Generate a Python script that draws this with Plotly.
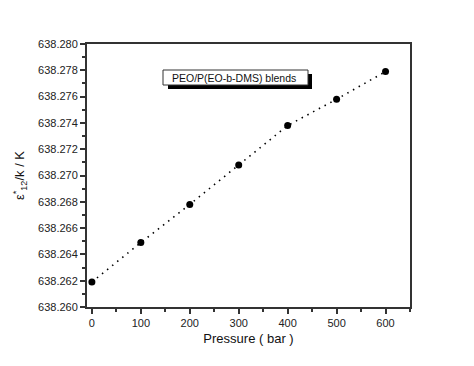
import plotly.graph_objects as go

pressure = [0, 100, 200, 300, 400, 500, 600]
eps = [638.2619, 638.2649, 638.2678, 638.2708, 638.2738, 638.2758, 638.2779]
legend_text = "PEO/P(EO-b-DMS) blends"

# plot area in pixels (reference)
L, T, W, H = 79, 36, 323, 263

fig = go.Figure()
fig.add_trace(go.Scatter(x=pressure, y=eps, mode="lines",
                         line=dict(color="black", width=1.6, dash="1.5px,5px"),
                         showlegend=False, hoverinfo="skip"))
fig.add_trace(go.Scatter(x=pressure, y=eps, mode="markers",
                         marker=dict(color="black", size=7),
                         showlegend=False))

axis_common = dict(showgrid=False, zeroline=False, showline=True, linecolor="#333",
                   linewidth=2, mirror=True, ticks="outside", ticklen=5, tickwidth=1.5,
                   tickcolor="#333", automargin=False,
                   tickfont=dict(family="Liberation Sans", size=11, color="#222"))

fig.update_xaxes(range=[-10, 650], tick0=0, dtick=100,
                 minor=dict(ticks="outside", ticklen=3, dtick=50, tickcolor="#333", tickwidth=1.5),
                 title=dict(text="Pressure ( bar )", font=dict(family="Liberation Sans", size=13, color="#111"),
                            standoff=6),
                 **axis_common)
fig.update_yaxes(range=[638.260, 638.280], tick0=638.260, dtick=0.002, tickformat=".3f",
                 minor=dict(ticks="outside", ticklen=3, dtick=0.001, tickcolor="#333", tickwidth=1.5),
                 title=dict(text="ε<sup>*</sup><sub>12</sub>/k / K",
                            font=dict(family="Liberation Sans", size=13, color="#111"), standoff=10),
                 **axis_common)

def px(x):
    return (x - 85) / W

def py(y):
    return (305 - y) / H

# legend-like box with shadow
fig.add_shape(type="rect", xref="paper", yref="paper",
              x0=px(166), x1=px(310), y0=py(87), y1=py(72),
              fillcolor="black", line=dict(width=0), layer="above")
fig.add_shape(type="rect", xref="paper", yref="paper",
              x0=px(161), x1=px(306), y0=py(83), y1=py(68),
              fillcolor="white", line=dict(width=1, color="#333"), layer="above")
fig.add_annotation(xref="paper", yref="paper", x=px(232), y=py(75.5),
                   xanchor="center", yanchor="middle", text=legend_text, showarrow=False,
                   font=dict(family="Liberation Sans", size=10.5, color="#111"))

fig.update_layout(width=474, height=366, plot_bgcolor="white", paper_bgcolor="white",
                  margin=dict(l=L, r=474 - L - W, t=T, b=366 - T - H))
fig.write_html("out.html")
